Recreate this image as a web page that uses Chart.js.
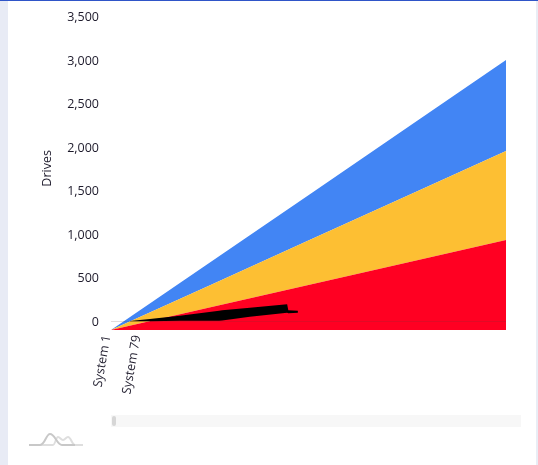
<html>
<head>
<meta charset="utf-8">
<script src="https://cdn.jsdelivr.net/npm/chart.js"></script>
<style>
body { margin: 0; background: #fff; overflow: hidden; }
#page { position: relative; width: 538px; height: 465px; }
#topline { position: absolute; left: 0; top: 0; width: 538px; height: 1px; background: #2f55c8; z-index: 2; }
#leftband { position: absolute; left: 0; top: 0; width: 8px; height: 465px; background: #e8ebf5; }
#rightband { position: absolute; left: 536px; top: 0; width: 2px; height: 465px; background: #e9edf5; }
#wrap { position: absolute; left: 0; top: 0; width: 538px; height: 465px; }
#slider { position: absolute; left: 111px; top: 415px; width: 410px; height: 12px; background: #f7f7f7; }
#handle { position: absolute; left: 1px; top: 1px; width: 4px; height: 10px; background: #d6d6d6; border-radius: 2px; }
#logo { position: absolute; left: 29px; top: 432px; }
</style>
</head>
<body>
<div id="page">
    <div id="leftband"></div>
    <div id="rightband"></div>
    <div id="topline"></div>
    <div id="wrap"><canvas id="chart"></canvas></div>
    <div id="slider"><div id="handle"></div></div>
    <svg id="logo" width="54" height="17" fill="none" stroke-width="2">
        <path d="M9 13 H24 C26 13 27 5 29 5 C31 5 32 8 34 8 C36 8 37 5 39 5 C42 5 43 13 46 13 H54" stroke="#dedede"/>
        <path d="M0 13 H11 C16 13 17 2 21 2 C26 2 28 13 33 13 H46" stroke="#c8c8c8"/>
    </svg>
</div>

<script>
// values
const systems = [1, 260, 520, 780, 1028];
const redValues = [-100, 160, 422, 684, 933];
const yellowValues = [0, 258, 516, 775, 1022];
const blueValues = [0, 263, 528, 793, 1045];

const ribbonSystems = [50, 102, 180, 282, 290, 362, 459, 462, 487];
const ribbonLow = [0, 0, 6, 6, 9, 52, 98, 92, 98];
const ribbonThickness = [3, 26, 57, 115, 117, 103, 97, 34, 23];

const xTickValues = [1, 79];
const yTickValues = [0, 500, 1000, 1500, 2000, 2500, 3000, 3500];

function points(xs, ys) {
    return xs.map(function(x, i) { return {x: x, y: ys[i]}; });
}

function area(data, color, fill, stack) {
    return {
        data: points(data[0], data[1]),
        backgroundColor: color,
        borderWidth: 0,
        pointRadius: 0,
        fill: fill,
        stack: stack
    };
}

const font = {family: '"Open Sans"', size: 12.5};
const textColor = '#1d1a2b';

new Chart(document.getElementById('chart').getContext('2d'), {
    type: 'line',
    data: {
        datasets: [
            area([ribbonSystems, ribbonLow], 'rgba(0,0,0,0)', false, 'ribbon'),
            area([ribbonSystems, ribbonThickness], '#000000', '-1', 'ribbon'),
            area([systems, redValues], '#ff0022', 'start', 'drives'),
            area([systems, yellowValues], '#fdbf33', '-1', 'drives'),
            area([systems, blueValues], '#4285f4', '-1', 'drives')
        ]
    },
    options: {
        responsive: true,
        maintainAspectRatio: false,
        animation: false,
        layout: {padding: {left: 33, top: 16.5, right: 32, bottom: 0}},
        plugins: {legend: {display: false}, tooltip: {enabled: false}},
        scales: {
            x: {
                type: 'linear',
                min: 1,
                max: 1028,
                border: {display: false},
                grid: {display: false},
                afterBuildTicks: function(axis) {
                    axis.ticks = xTickValues.map(function(v) { return {value: v}; });
                },
                afterFit: function(axis) { axis.height = 135; },
                ticks: {
                    autoSkip: false,
                    minRotation: 80,
                    maxRotation: 80,
                    padding: -4,
                    labelOffset: -4,
                    font: font,
                    color: textColor,
                    callback: function(v) { return 'System ' + v; }
                }
            },
            y: {
                stacked: true,
                min: -100,
                max: 3500,
                border: {display: false},
                afterBuildTicks: function(axis) {
                    axis.ticks = yTickValues.map(function(v) { return {value: v}; });
                },
                afterFit: function(axis) {
                    axis.width = 78;
                    axis.paddingTop = 0;
                    axis.paddingBottom = 0;
                },
                grid: {
                    z: 1,
                    drawTicks: false,
                    color: function(ctx) { return ctx.tick.value === 0 ? 'rgba(90,60,60,0.18)' : 'rgba(0,0,0,0)'; }
                },
                title: {display: true, text: '\u00a0\u00a0\u00a0Drives', font: font, color: textColor, padding: {top: 7, bottom: 0}},
                ticks: {
                    padding: 12,
                    labelOffset: 1,
                    font: font,
                    color: textColor,
                    callback: function(v) { return v.toLocaleString('en-US'); }
                }
            }
        }
    }
});
</script>
</body>
</html>
